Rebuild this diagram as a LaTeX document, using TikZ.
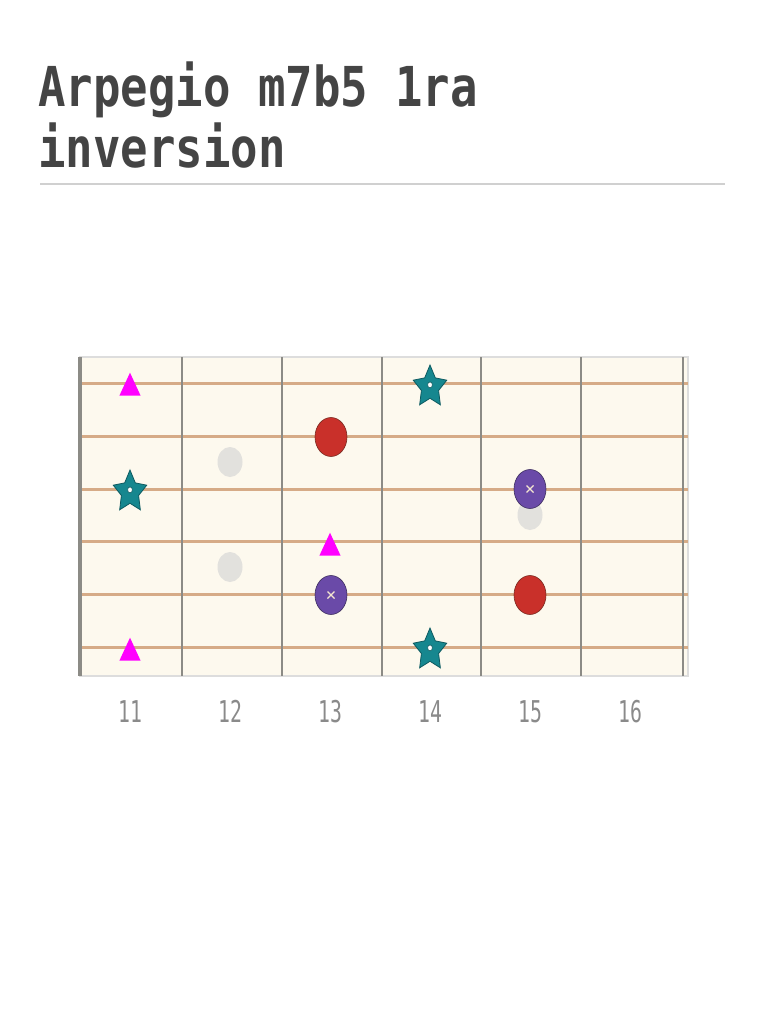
\documentclass[tikz,border=0pt]{standalone}
\usepackage{fontspec}
\usetikzlibrary{shapes.geometric}
\newfontfamily\titlefont[FakeStretch=0.83]{DejaVu Sans Mono}
\newfontfamily\fretfont[FakeStretch=0.66]{DejaVu Sans Mono}
\definecolor{titlegray}{HTML}{444444}
\definecolor{rulegray}{HTML}{D0D0D0}
\definecolor{boardbg}{HTML}{FDF9EE}
\definecolor{boardedge}{HTML}{DDDDDD}
\definecolor{stringc}{HTML}{D6AB87}
\definecolor{fretc}{HTML}{8C8B86}
\definecolor{labelgray}{HTML}{8A8A8A}
\definecolor{inlay}{HTML}{E2E1DD}
\definecolor{tealc}{HTML}{16878F}
\definecolor{tealdark}{HTML}{0E5A60}
\definecolor{redc}{HTML}{C9302A}
\definecolor{reddark}{HTML}{7A2A20}
\definecolor{purplec}{HTML}{6A4AA8}
\definecolor{purpledark}{HTML}{3E2F60}
\definecolor{magentac}{HTML}{FF00FF}
\definecolor{creamx}{HTML}{F4E6D0}
\begin{document}
\begin{tikzpicture}[x=1pt,y=-1pt,
  stringline/.style={stringc,line width=3pt},
  fretline/.style={fretc,line width=2.6pt},
  fretlabel/.style={anchor=base,inner sep=0,text=labelgray,font=\fretfont\fontsize{30}{30}\selectfont},
  inlaydot/.style={ellipse,fill=inlay,minimum width=25pt,minimum height=30pt,inner sep=0},
  tri/.style={regular polygon,regular polygon sides=3,fill=magentac,minimum size=30.6pt,inner sep=0,transform shape,xscale=0.8},
  starmark/.style={star,star points=5,star point ratio=1.95,fill=tealc,draw=tealdark,line width=0.8pt,minimum size=44pt,inner sep=0,transform shape,xscale=0.8,
    path picture={\fill[white,draw=tealdark,line width=0.6pt] (path picture bounding box.center) circle (3pt);}},
  reddot/.style={ellipse,fill=redc,draw=reddark,line width=0.6pt,minimum width=32pt,minimum height=39pt,inner sep=0},
  purpledot/.style={ellipse,fill=purplec,draw=purpledark,line width=0.6pt,minimum width=32pt,minimum height=39pt,inner sep=0,
    path picture={\draw[creamx,line width=1.3pt] ([shift={(-3.5,-3.5)}]path picture bounding box.center) -- ([shift={(3.5,3.5)}]path picture bounding box.center);
                  \draw[creamx,line width=1.3pt] ([shift={(-3.5,3.5)}]path picture bounding box.center) -- ([shift={(3.5,-3.5)}]path picture bounding box.center);}}
]
\path[use as bounding box,fill=white] (0,0) rectangle (768,1024);

% title
\node[anchor=base west,inner sep=0,text=titlegray,font=\titlefont\bfseries\fontsize{55}{61}\selectfont] (title1) at (38,107) {Arpegio m7b5 1ra};
\node[anchor=base west,inner sep=0,text=titlegray,font=\titlefont\bfseries\fontsize{55}{61}\selectfont] (title2) at (38,168) {inversion};
\draw[rulegray,line width=2pt] (40,184) -- (725,184);

% fretboard
\fill[boardbg,draw=boardedge,line width=1.5pt] (80,357) rectangle (688,676);

% inlays
\node[inlaydot] (in12a) at (230,462) {};
\node[inlaydot] (in12b) at (230,567) {};
\node[inlaydot] (in15) at (530,515) {};

% strings
\foreach \y in {383,436,489,541,594,647}
  \draw[stringline] (80,\y) -- (688,\y);

% frets
\draw[fretc,line width=3.2pt] (80,357) -- (80,676);
\foreach \x in {182,282,382,481,581,683}
  \draw[fretline] (\x,357) -- (\x,676);

% markers
\node[tri] (t11a) at (130,388) {};
\node[tri] (t13) at (330,548) {};
\node[tri] (t11b) at (130,653) {};
\node[starmark] (s14a) at (430,387) {};
\node[starmark] (s11) at (130,492) {};
\node[starmark] (s14b) at (430,650) {};
\node[reddot] (r13) at (331,437) {};
\node[reddot] (r15) at (530,595) {};
\node[purpledot] (p15) at (530,489) {};
\node[purpledot] (p13) at (331,595) {};

% fret numbers
\node[fretlabel] (f11) at (130,722) {11};
\node[fretlabel] (f12) at (230,722) {12};
\node[fretlabel] (f13) at (330,722) {13};
\node[fretlabel] (f14) at (430,722) {14};
\node[fretlabel] (f15) at (530,722) {15};
\node[fretlabel] (f16) at (630,722) {16};
\end{tikzpicture}
\end{document}
